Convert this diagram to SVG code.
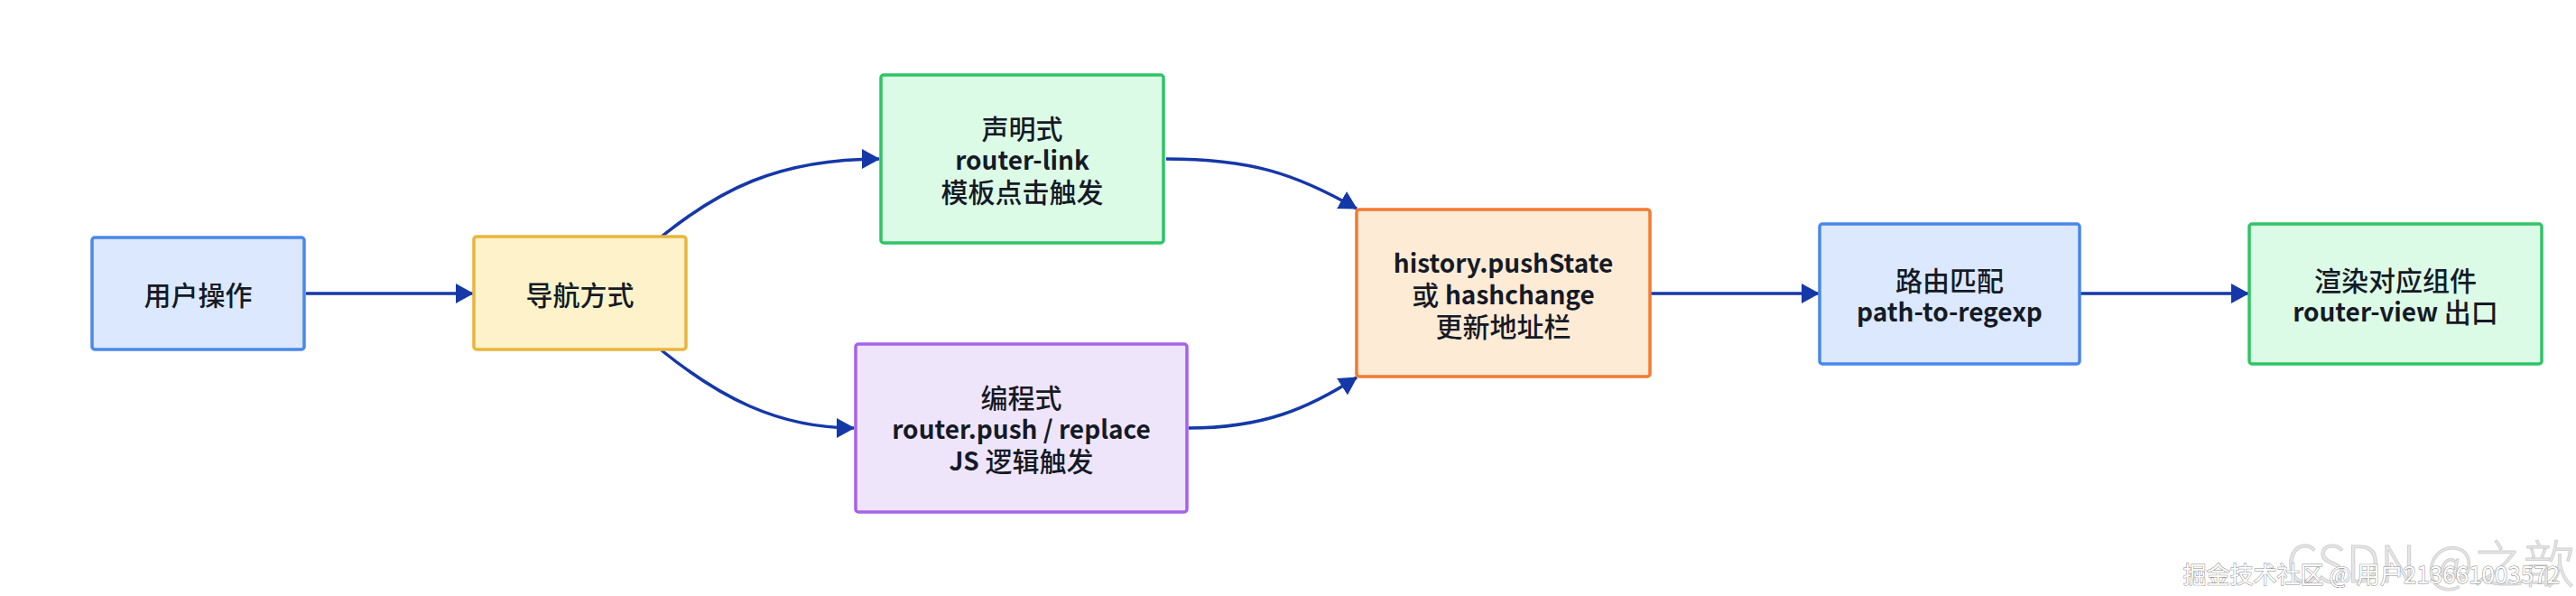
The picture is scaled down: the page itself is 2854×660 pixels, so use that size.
<svg xmlns="http://www.w3.org/2000/svg" width="2854" height="660" viewBox="0 0 2854 660">
  <style>
    .lbl { font-family: "Noto Sans CJK SC", "Noto Sans", sans-serif; font-size: 30px; font-weight: 500; fill: #151a26; text-anchor: middle; dominant-baseline: central; }
    .b { font-weight: bold; font-size: 28px; }
    .box { stroke-width: 3.5; }
    .blue { fill: #dbe8fd; stroke: #4a87ea; }
    .yellow { fill: #fdf2c9; stroke: #e9b53c; }
    .green { fill: #dcfbe6; stroke: #2fc466; }
    .purple { fill: #efe5fb; stroke: #a662ec; }
    .orange { fill: #feebd6; stroke: #f47a30; }
    .edge { fill: none; stroke: #1538a8; stroke-width: 3.5; }
    .wm1 { font-family: "Noto Sans CJK SC", "Liberation Sans", sans-serif; font-size: 56px; font-weight: 300; fill: #e6e6e6; stroke: #d0d0d0; stroke-width: 1; }
    .wm2 { font-family: "Noto Sans CJK SC", "Liberation Sans", sans-serif; font-size: 26px; fill: #ffffff; stroke: #8a8a8a; stroke-width: 1; paint-order: stroke; }
  </style>
  <defs>
    <marker id="arrow" viewBox="0 0 20 22" refX="19" refY="11" markerWidth="20" markerHeight="22" markerUnits="userSpaceOnUse" orient="auto">
      <path d="M0,0 L20,11 L0,22 Z" fill="#1538a8"/>
    </marker>
  </defs>

  <rect width="2854" height="660" fill="#ffffff"/>

  <g id="connectors">
    <path class="edge" d="M339,325 L524,325" marker-end="url(#arrow)"/>
    <path class="edge" d="M733,262 C795,212 860,176 974,176" marker-end="url(#arrow)"/>
    <path class="edge" d="M733,388 C795,438 860,474 946,474" marker-end="url(#arrow)"/>
    <path class="edge" d="M1292,176 C1385,176 1435,192 1503,231" marker-end="url(#arrow)"/>
    <path class="edge" d="M1317,474 C1400,474 1450,452 1503,418" marker-end="url(#arrow)"/>
    <path class="edge" d="M1829,325 L2015,325" marker-end="url(#arrow)"/>
    <path class="edge" d="M2305,325 L2491,325" marker-end="url(#arrow)"/>
  </g>

  <g id="node-user">
    <rect class="box blue" x="102" y="263" width="235" height="124" rx="3"/>
    <text class="lbl" x="219.5" y="325">用户操作</text>
  </g>

  <g id="node-nav">
    <rect class="box yellow" x="525" y="262" width="235" height="125" rx="3"/>
    <text class="lbl" x="642.5" y="325">导航方式</text>
  </g>

  <g id="node-declarative">
    <rect class="box green" x="976" y="83" width="313" height="186" rx="3"/>
    <text class="lbl"><tspan x="1132.5" y="141">声明式</tspan><tspan class="b" x="1132.5" y="176">router-link</tspan><tspan x="1132.5" y="211">模板点击触发</tspan></text>
  </g>

  <g id="node-programmatic">
    <rect class="box purple" x="948" y="381" width="367" height="186" rx="3"/>
    <text class="lbl"><tspan x="1131.5" y="439">编程式</tspan><tspan class="b" x="1131.5" y="474">router.push / replace</tspan><tspan x="1131.5" y="509"><tspan class="b">JS</tspan> 逻辑触发</tspan></text>
  </g>

  <g id="node-history">
    <rect class="box orange" x="1503" y="232" width="325" height="185" rx="3"/>
    <text class="lbl"><tspan class="b" x="1665.5" y="290">history.pushState</tspan><tspan x="1665.5" y="325">或 <tspan class="b">hashchange</tspan></tspan><tspan x="1665.5" y="360">更新地址栏</tspan></text>
  </g>

  <g id="node-match">
    <rect class="box blue" x="2016" y="248" width="288" height="155" rx="3"/>
    <text class="lbl"><tspan x="2160" y="309">路由匹配</tspan><tspan class="b" x="2160" y="344">path-to-regexp</tspan></text>
  </g>

  <g id="node-render">
    <rect class="box green" x="2492" y="248" width="324" height="155" rx="3"/>
    <text class="lbl"><tspan x="2654" y="309">渲染对应组件</tspan><tspan x="2654" y="344"><tspan class="b">router-view</tspan> 出口</tspan></text>
  </g>

  <g id="watermark">
    <text class="wm1" x="2852" y="645" text-anchor="end">CSDN @之歆</text>
    <text class="wm2" x="2836" y="646" text-anchor="end">掘金技术社区 @ 用户213661003572</text>
  </g>
</svg>
